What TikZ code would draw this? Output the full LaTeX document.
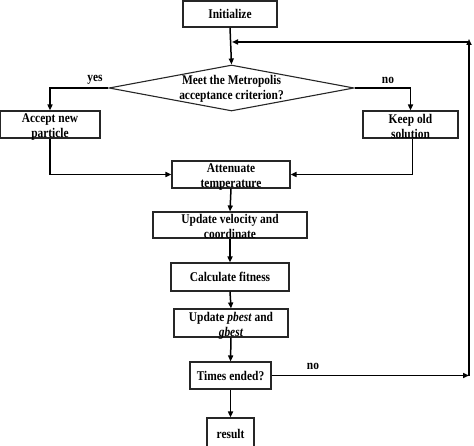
\documentclass[tikz,border=0pt]{standalone}
\usepackage{fontspec}
\setmainfont{Liberation Serif}[FakeStretch=0.86]
\usetikzlibrary{shapes.geometric,arrows.meta}
\begin{document}
\begin{tikzpicture}[x=1pt,y=-1pt,
  box/.style={draw=black!85,line width=1.1pt,rectangle,inner sep=0pt,align=center,
    font=\fontsize{13.3}{15}\selectfont\bfseries},
  lbl/.style={font=\fontsize{13.3}{15}\selectfont\bfseries,inner sep=0pt},
  twoline/.style 2 args={label={[lbl,align=center,yshift=-#1]center:#2}},
  conn/.style={line width=1.5pt,-{Triangle[length=6pt,width=5pt]}}]
\useasboundingbox (0,0) rectangle (474,446);
\node[box,minimum width=94pt,minimum height=26pt] (init) at (230,14) {Initialize};
\node[draw=black!85,line width=1.1pt,diamond,minimum width=245pt,minimum height=46pt,inner sep=0pt,
  twoline={1pt}{Meet the Metropolis\\acceptance criterion?}] (dec) at (231.5,88) {};
\node[box,minimum width=100pt,minimum height=27pt,twoline={3pt}{Accept new\\particle}] (acc) at (50,124.5) {};
\node[box,minimum width=95pt,minimum height=27pt,twoline={2pt}{Keep old\\solution}] (keep) at (410.5,124.5) {};
\node[box,minimum width=118pt,minimum height=27pt,twoline={3pt}{Attenuate\\temperature}] (att) at (231,174.5) {};
\node[box,minimum width=154pt,minimum height=26pt,twoline={1pt}{Update velocity and\\coordinate}] (vel) at (230,225) {};
\node[box,minimum width=118pt,minimum height=28pt] (fit) at (230,277) {Calculate fitness};
\node[box,minimum width=114pt,minimum height=28pt,twoline={3pt}{Update \textit{pbest} and\\\textit{gbest}}] (best) at (231,323) {};
\node[box,minimum width=81pt,minimum height=27pt] (times) at (230.5,375.5) {Times ended?};
\node[box,minimum width=47pt,minimum height=32pt] (res) at (230.5,434) {result};
\node[lbl] (yes) at (95,80) {yes};
\node[lbl] (no1) at (388,80) {no};
\node[lbl] (no2) at (313,366) {no};
\coordinate (j) at (init.south |- 0,42);
\coordinate (rb) at (469,375.5);
\coordinate (rt) at (469,42);
\draw[conn] (init.south) -- (dec.north);
\draw[conn] (dec.west) -| (acc.north);
\draw[conn] (dec.east) -| (keep.north);
\draw[conn] (acc.south) |- (att.west);
\draw[conn] ([xshift=2pt]keep.south) |- (att.east);
\draw[conn] (att.south) -- (vel.north);
\draw[conn] (vel.south) -- (fit.north);
\draw[conn] (fit.south) -- (best.north);
\draw[conn] (best.south) -- (times.north);
\draw[conn] (times.south) -- (res.north);
\draw[conn] (times.east) -- (rb);
\draw[conn] (rb) -- ([yshift=3pt]rt);
\draw[conn] (rt) -- ([xshift=2pt]j);
\end{tikzpicture}
\end{document}
